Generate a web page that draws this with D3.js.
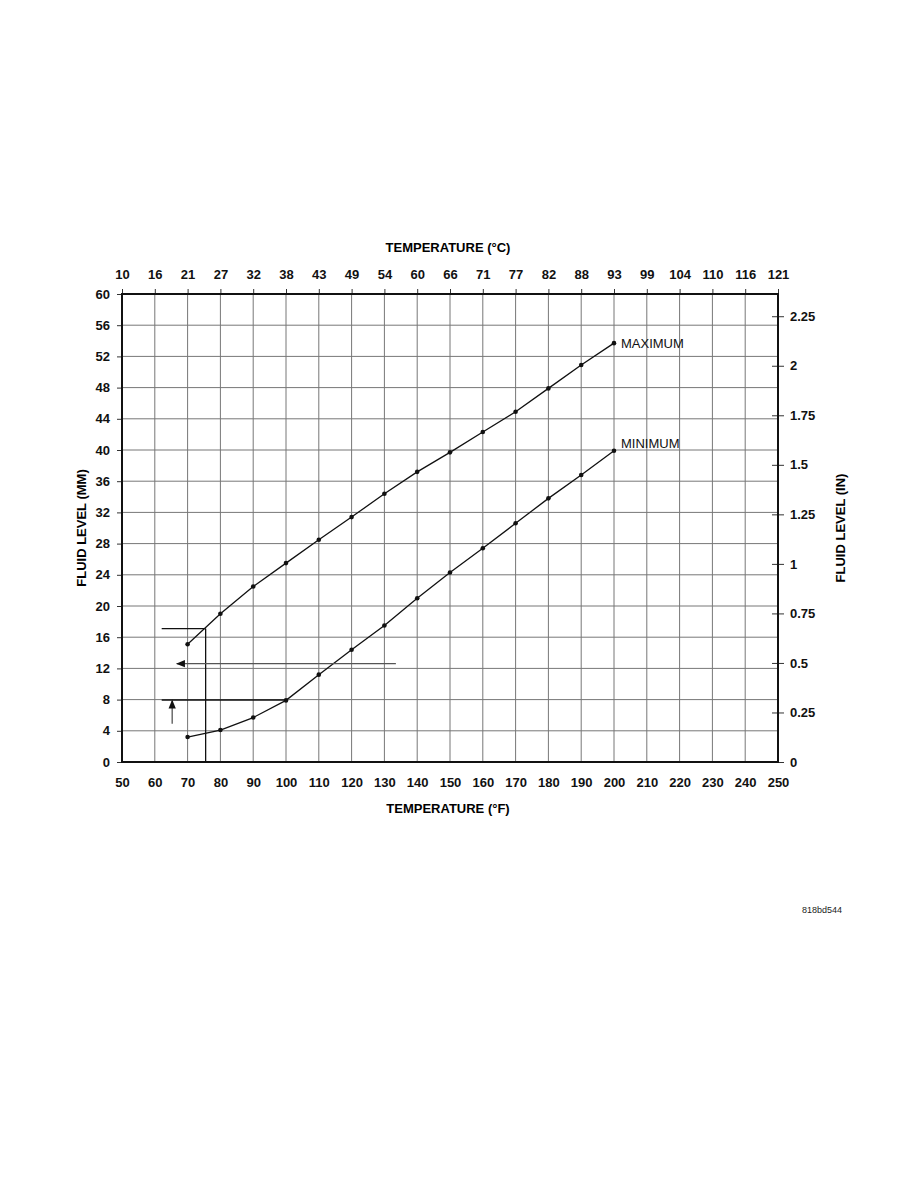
<!DOCTYPE html>
<html><head><meta charset="utf-8">
<script src="https://cdn.jsdelivr.net/npm/d3@7"></script>
<style>body{margin:0;background:#fff}svg{display:block}</style>
</head><body>
<script>
const tempF = [70,80,90,100,110,120,130,140,150,160,170,180,190,200];
const maxLevel = [15.1,19.0,22.5,25.5,28.5,31.4,34.4,37.2,39.7,42.3,44.9,47.9,50.9,53.7];
const minLevel = [3.2,4.1,5.7,7.9,11.2,14.4,17.5,21.0,24.3,27.4,30.6,33.8,36.8,39.9];
const fTicks = [50,60,70,80,90,100,110,120,130,140,150,160,170,180,190,200,210,220,230,240,250];
const cLabels = ["10","16","21","27","32","38","43","49","54","60","66","71","77","82","88","93","99","104","110","116","121"];
const mmTicks = [0,4,8,12,16,20,24,28,32,36,40,44,48,52,56,60];
const inTicks = [0,0.25,0.5,0.75,1,1.25,1.5,1.75,2,2.25];
// annotation guide lines [x1,y1,x2,y2] in data units (°F, mm)
const guideLines = [[62.1,17.1,75.5,17.1],[75.5,17.1,75.5,0],[62.1,7.95,100,7.95]];
const arrowLeft = [133.5,12.6,66.7,12.6];
const arrowUp = [65.3,4.9,65.3,7.9];

const W=918,H=1188;
const svg=d3.select("body").append("svg").attr("width",W).attr("height",H);
const x=d3.scaleLinear().domain([50,250]).range([122,778]);
const y=d3.scaleLinear().domain([0,60]).range([762,294]);
const yIn=d3.scaleLinear().domain([0,60/25.4]).range([762,294]);
const font="'Liberation Sans', Arial, sans-serif";

const defs=svg.append("defs");
defs.append("marker").attr("id","ah").attr("viewBox","0 0 10 10").attr("refX",9).attr("refY",5)
 .attr("markerWidth",7).attr("markerHeight",7).attr("orient","auto-start-reverse")
 .append("path").attr("d","M0,1 L10,5 L0,9 Z").attr("fill","#111");

// grid
const g=svg.append("g");
g.selectAll(".vg").data(fTicks).join("line").attr("x1",d=>x(d)).attr("x2",d=>x(d)).attr("y1",y(60)).attr("y2",y(0))
 .attr("stroke","#777").attr("stroke-width",1);
g.selectAll(".hg").data(mmTicks).join("line").attr("x1",x(50)).attr("x2",x(250)).attr("y1",d=>y(d)).attr("y2",d=>y(d))
 .attr("stroke","#777").attr("stroke-width",1);

// axes
const axB=svg.append("g").attr("transform",`translate(0,${y(0)})`).call(d3.axisBottom(x).tickValues(fTicks).tickSize(0).tickPadding(16));
const axL=svg.append("g").attr("transform",`translate(${x(50)},0)`).call(d3.axisLeft(y).tickValues(mmTicks).tickSize(5).tickPadding(7));
const axT=svg.append("g").attr("transform",`translate(0,${y(60)})`).call(d3.axisTop(x).tickValues(fTicks).tickSize(5).tickPadding(10).tickFormat((d,i)=>cLabels[i]));
const axR=svg.append("g").attr("transform",`translate(${x(250)},0)`).call(d3.axisRight(yIn).tickValues(inTicks).tickSize(6).tickPadding(6).tickFormat(d=>String(d)));
axR.selectAll(".tick line").attr("x1",-6);
[axB,axL,axT,axR].forEach(a=>{
  a.select(".domain").remove();
  a.selectAll("text").attr("font-family",font).attr("font-weight","bold").attr("font-size",13).attr("fill","#111");
  a.selectAll(".tick line").attr("stroke","#333");
});
// frame
svg.append("rect").attr("x",x(50)).attr("y",y(60)).attr("width",x(250)-x(50)).attr("height",y(0)-y(60))
 .attr("fill","none").attr("stroke","#111").attr("stroke-width",2);

// titles
svg.append("text").attr("x",448).attr("y",252).attr("text-anchor","middle").attr("font-family",font).attr("font-weight","bold").attr("font-size",13).text("TEMPERATURE (°C)");
svg.append("text").attr("x",448).attr("y",813).attr("text-anchor","middle").attr("font-family",font).attr("font-weight","bold").attr("font-size",13).text("TEMPERATURE (°F)");
svg.append("text").attr("transform",`translate(86,${y(30)}) rotate(-90)`).attr("text-anchor","middle").attr("font-family",font).attr("font-weight","bold").attr("font-size",13).text("FLUID LEVEL (MM)");
svg.append("text").attr("transform",`translate(845,${y(30)}) rotate(-90)`).attr("text-anchor","middle").attr("font-family",font).attr("font-weight","bold").attr("font-size",13).text("FLUID LEVEL (IN)");

// series
const line=d3.line().x(d=>x(d[0])).y(d=>y(d[1]));
[maxLevel,minLevel].forEach(s=>{
  const pts=tempF.map((t,i)=>[t,s[i]]);
  svg.append("path").attr("d",line(pts)).attr("fill","none").attr("stroke","#111").attr("stroke-width",1.3);
  svg.append("g").selectAll("circle").data(pts).join("circle").attr("cx",d=>x(d[0])).attr("cy",d=>y(d[1])).attr("r",2.3).attr("fill","#111");
});
svg.append("text").attr("x",x(200)+7).attr("y",y(maxLevel[maxLevel.length-1])+5).attr("font-family",font).attr("font-size",13).attr("fill","#111").text("MAXIMUM");
svg.append("text").attr("x",x(200)+7).attr("y",y(minLevel[minLevel.length-1])-3).attr("font-family",font).attr("font-size",13).attr("fill","#111").text("MINIMUM");

// guides
svg.append("g").selectAll("line").data(guideLines).join("line")
 .attr("x1",d=>x(d[0])).attr("y1",d=>y(d[1])).attr("x2",d=>x(d[2])).attr("y2",d=>y(d[3]))
 .attr("stroke","#111").attr("stroke-width",1.3);
[arrowLeft,arrowUp].forEach(d=>{
  svg.append("line").attr("x1",x(d[0])).attr("y1",y(d[1])).attr("x2",x(d[2])).attr("y2",y(d[3]))
   .attr("stroke","#555").attr("stroke-width",1.3).attr("marker-end","url(#ah)");
});

svg.append("text").attr("x",842).attr("y",913).attr("text-anchor","end").attr("font-family",font).attr("font-size",9).attr("fill","#222").text("818bd544");
</script>
</body></html>
